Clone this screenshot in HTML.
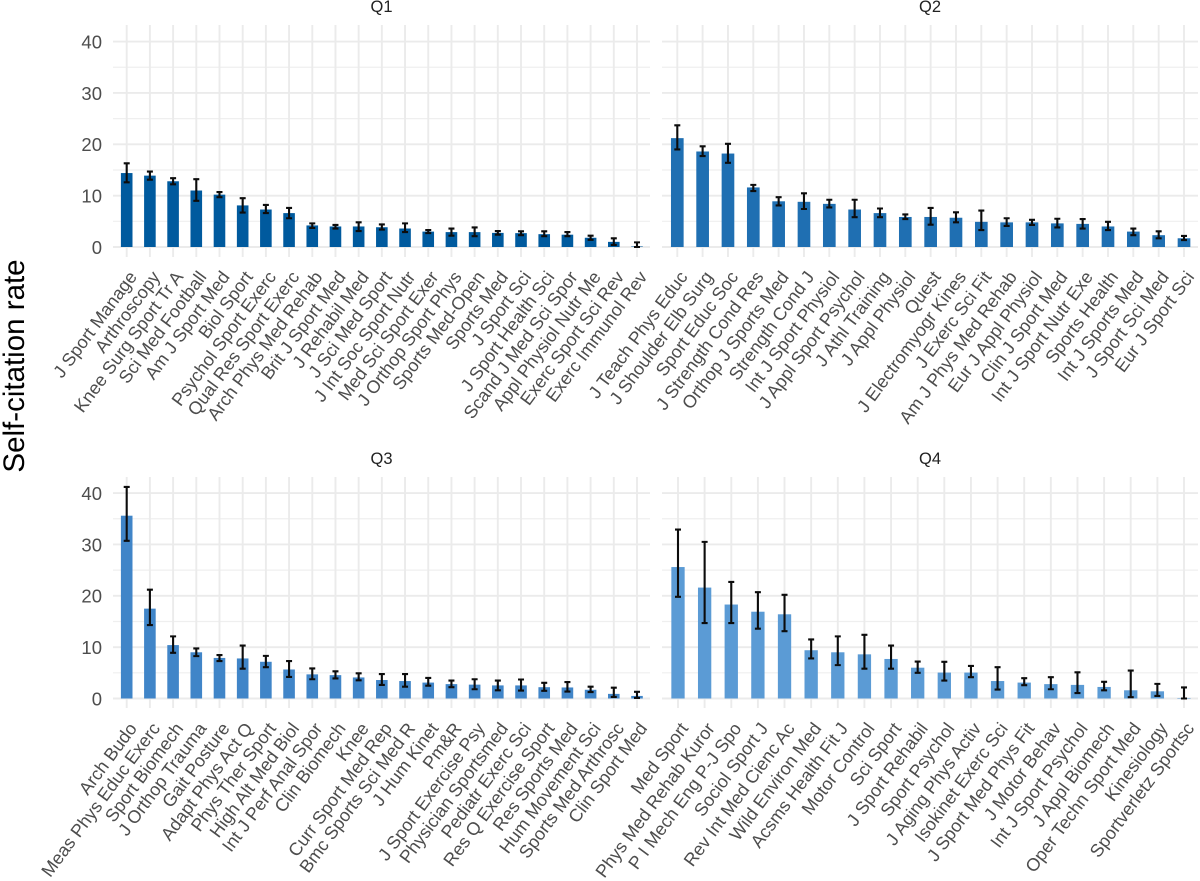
<!DOCTYPE html>
<html lang="en">
<head>
<meta charset="utf-8">
<title>Self-citation rate by journal quartile</title>
<style>
html,body{margin:0;padding:0;background:#fff;}
body{width:1200px;height:881px;overflow:hidden;}
svg{display:block;font-family:"Liberation Sans",sans-serif;filter:blur(0.3px);}
</style>
</head>
<body>
<svg id="chart" width="1200" height="881" viewBox="0 0 1200 881" xmlns="http://www.w3.org/2000/svg">
  <text transform="translate(24,366) rotate(-90)" text-anchor="middle" font-size="29.5" fill="#000">Self-citation rate</text>
</svg>
<script>
const yTicks = [0, 10, 20, 30, 40];
const yMinorTicks = [5, 15, 25, 35];

const q1Labels = ["J Sport Manage","Arthroscopy","Knee Surg Sport Tr A","Sci Med Football","Am J Sport Med","Biol Sport","Psychol Sport Exerc","Qual Res Sport Exerc","Arch Phys Med Rehab","Brit J Sport Med","J Rehabil Med","J Sci Med Sport","J Int Soc Sport Nutr","Med Sci Sport Exer","J Orthop Sport Phys","Sports Med-Open","Sports Med","J Sport Sci","J Sport Health Sci","Scand J Med Sci Spor","Appl Physiol Nutr Me","Exerc Sport Sci Rev","Exerc Immunol Rev"];
const q1Values = [14.4,13.9,12.8,11.0,10.2,8.1,7.3,6.6,4.2,4.0,4.0,3.85,3.6,3.0,2.9,2.9,2.75,2.7,2.5,2.4,1.8,1.0,0.1];
const q1Lower = [12.6,13.1,12.2,9.0,9.7,6.7,6.6,5.6,3.7,3.6,3.1,3.4,2.9,2.7,2.2,2.1,2.4,2.3,2.1,2.1,1.4,0.4,0.0];
const q1Upper = [16.3,14.7,13.4,13.2,10.7,9.5,8.2,7.6,4.6,4.3,4.8,4.4,4.6,3.3,3.6,3.8,3.1,3.05,3.05,2.9,2.2,1.7,0.9];

const q2Labels = ["J Teach Phys Educ","J Shoulder Elb Surg","Sport Educ Soc","J Strength Cond Res","Orthop J Sports Med","Strength Cond J","Int J Sport Physiol","J Appl Sport Psychol","J Athl Training","J Appl Physiol","Quest","J Electromyogr Kines","J Exerc Sci Fit","Am J Phys Med Rehab","Eur J Appl Physiol","Clin J Sport Med","Int J Sport Nutr Exe","Sports Health","Int J Sports Med","J Sport Sci Med","Eur J Sport Sci"];
const q2Values = [21.2,18.6,18.2,11.6,8.9,8.8,8.4,7.3,6.6,5.85,5.85,5.7,4.9,4.8,4.8,4.6,4.5,4.0,3.0,2.3,1.7];
const q2Lower = [19.0,17.7,16.4,10.9,8.1,7.4,7.7,5.8,5.8,5.45,4.35,4.8,3.3,4.1,4.3,3.8,3.6,3.3,2.3,1.7,1.35];
const q2Upper = [23.7,19.6,20.1,12.1,9.7,10.45,9.2,9.2,7.5,6.35,7.6,6.75,7.1,5.6,5.3,5.5,5.45,4.9,3.6,3.05,2.15];

const q3Labels = ["Arch Budo","Meas Phys Educ Exerc","Sport Biomech","J Orthop Trauma","Gait Posture","Adapt Phys Act Q","Phys Ther Sport","High Alt Med Biol","Int J Perf Anal Spor","Clin Biomech","Knee","Curr Sport Med Rep","Bmc Sports Sci Med R","J Hum Kinet","Pm&R","J Sport Exercise Psy","Physician Sportsmed","Pediatr Exerc Sci","Res Q Exercise Sport","Res Sports Med","Hum Movement Sci","Sports Med Arthrosc","Clin Sport Med"];
const q3Values = [35.6,17.5,10.4,9.0,7.9,7.8,7.15,5.65,4.7,4.55,4.1,3.6,3.4,3.1,2.8,2.7,2.55,2.55,2.2,2.15,1.7,0.9,0.5];
const q3Lower = [30.7,14.3,8.9,8.25,7.3,5.8,6.1,4.2,3.75,3.9,3.55,2.65,2.3,2.5,2.2,1.8,1.6,1.55,1.5,1.35,1.25,0.3,0.1];
const q3Upper = [41.2,21.2,12.1,9.75,8.45,10.3,8.3,7.3,5.85,5.3,4.9,4.75,4.75,4.0,3.5,3.75,3.5,3.7,3.05,3.2,2.3,2.1,1.3];

const q4Labels = ["Med Sport","Phys Med Rehab Kuror","P I Mech Eng P-J Spo","Sociol Sport J","Rev Int Med Cienc Ac","Wild Environ Med","Acsms Health Fit J","Motor Control","Sci Sport","J Sport Rehabil","Sport Psychol","J Aging Phys Activ","Isokinet Exerc Sci","J Sport Med Phys Fit","J Motor Behav","Int J Sport Psychol","J Appl Biomech","Oper Techn Sport Med","Kinesiology","Sportverletz Sportsc"];
const q4Values = [25.6,21.6,18.3,16.9,16.4,9.4,9.0,8.6,7.7,6.0,5.05,5.05,3.4,3.1,2.8,2.65,2.25,1.6,1.4,0.1];
const q4Lower = [19.8,14.7,14.7,13.6,13.1,7.8,6.5,5.8,5.8,5.0,3.5,4.15,1.75,2.6,1.8,1.05,1.6,0.25,0.5,0.0];
const q4Upper = [32.9,30.5,22.7,20.7,20.2,11.5,12.1,12.4,10.3,7.2,7.15,6.35,6.1,3.95,4.15,5.1,3.25,5.45,2.85,2.15];

const panels = [
  {key:'q1', title:'Q1', labels:q1Labels, values:q1Values, lower:q1Lower, upper:q1Upper, color:'#005a9e', left:113, right:650, top:25, bottom:257, zero:247, firstX:126.7, lastX:637, titleY:12},
  {key:'q2', title:'Q2', labels:q2Labels, values:q2Values, lower:q2Lower, upper:q2Upper, color:'#1f6fb2', left:662, right:1198, top:25, bottom:257, zero:247, firstX:677.3, lastX:1184, titleY:12},
  {key:'q3', title:'Q3', labels:q3Labels, values:q3Values, lower:q3Lower, upper:q3Upper, color:'#4085c8', left:113, right:650, top:477, bottom:708, zero:698.5, firstX:126.7, lastX:637, titleY:464},
  {key:'q4', title:'Q4', labels:q4Labels, values:q4Values, lower:q4Lower, upper:q4Upper, color:'#5b9bd5', left:662, right:1198, top:477, bottom:708, zero:698.5, firstX:678, lastX:1184, titleY:464}
];

const svgNS = 'http://www.w3.org/2000/svg';
const root = document.getElementById('chart');
const unitPx = 5.135;

function make(tag, attrs, parent) {
  const el = document.createElementNS(svgNS, tag);
  for (const k in attrs) el.setAttribute(k, attrs[k]);
  parent.appendChild(el);
  return el;
}
function makeYScale(p) {
  return function (v) { return p.zero - v * unitPx; };
}
function makeXScale(p) {
  const step = (p.lastX - p.firstX) / (p.labels.length - 1);
  return function (i) { return p.firstX + i * step; };
}

panels.forEach(function (p) {
  const y = makeYScale(p);
  const x = makeXScale(p);
  const step = (p.lastX - p.firstX) / (p.labels.length - 1);

  const g = make('g', {}, root);
  
  

  const title = make('text', {x: (p.left + p.right) / 2, y: p.titleY, 'text-anchor': 'middle', 'font-size': 16.5, fill: '#222'}, g);
  title.textContent = p.title;
  
  

  yMinorTicks.forEach(function (t) {
    const line = make('line', {x1: p.left, x2: p.right, y1: y(t), y2: y(t), stroke: '#efefef', 'stroke-width': 1.2}, g);
    
    
  });
  yTicks.forEach(function (t) {
    const line = make('line', {x1: p.left, x2: p.right, y1: y(t), y2: y(t), stroke: '#ebebeb', 'stroke-width': 1.9}, g);
    
    
  });
  p.labels.forEach(function (name, i) {
    const line = make('line', {x1: x(i), x2: x(i), y1: p.top, y2: p.bottom, stroke: '#ebebeb', 'stroke-width': 1.9}, g);
    
    
  });

  if (p.left < 600) {
    yTicks.forEach(function (t) {
      const lab = make('text', {x: 102, y: y(t) + 6.8, 'text-anchor': 'end', 'font-size': 18.5, fill: '#4d4d4d'}, g);
      lab.textContent = String(t);
      
      
    });
  }

  p.labels.forEach(function (name, i) {
    const cx = x(i);
    const w = step * 0.5;
    const bar = make('rect', {x: cx - w / 2, y: y(p.values[i]), width: w, height: y(0) - y(p.values[i]), fill: p.color}, g);
    
    

    const err = make('path', {
      d: 'M' + (cx - 3) + ' ' + y(p.upper[i]) + 'H' + (cx + 3) +
         'M' + cx + ' ' + y(p.upper[i]) + 'V' + y(p.lower[i]) +
         'M' + (cx - 3) + ' ' + y(p.lower[i]) + 'H' + (cx + 3),
      fill: 'none', stroke: '#0c0c0c', 'stroke-width': 2.1
    }, g);
    
    

    const tx = cx + 11;
    const ty = p.zero + 30;
    const lab = make('text', {x: tx, y: ty, 'text-anchor': 'end', 'font-size': 18, fill: '#4d4d4d', transform: 'rotate(-53.5 ' + tx + ' ' + ty + ')'}, g);
    lab.textContent = name;
    
    
  });
});
</script>
</body>
</html>
